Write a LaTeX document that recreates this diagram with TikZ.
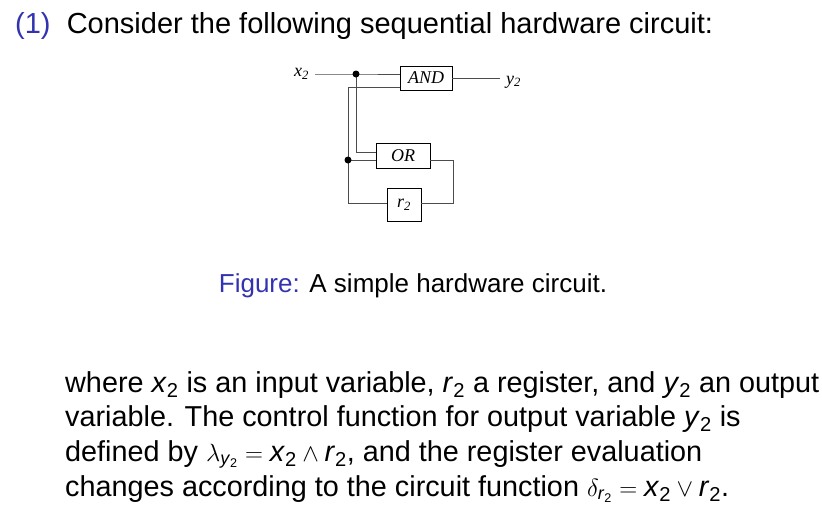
\documentclass[tikz,border=0pt]{standalone}
\usepackage{fontspec}
\setmainfont{Liberation Sans}
\newfontfamily\serf{Liberation Serif}
\definecolor{bblue}{RGB}{51,51,178}
\newcommand{\vv}[1]{\textit{#1}\textsubscript{2}}
\newcommand{\sv}[1]{\mbox{\fontsize{18}{18}\selectfont\textit{#1}\textsubscript{2}}}
\begin{document}
\begin{tikzpicture}[x=1pt,y=-1pt,
  gate/.style={draw,line width=0.7pt,inner sep=0pt,font=\serf\itshape\fontsize{18}{18}\selectfont},
  wire/.style={line width=0.7pt,gray!60!black},
  dot/.style={circle,fill,inner sep=0pt,minimum size=7pt},
  lab/.style={inner sep=0pt,font=\serf\itshape\fontsize{18}{18}\selectfont},
  txt/.style={anchor=base west,inner sep=0pt,font=\fontsize{28.8}{33}\selectfont}]
\useasboundingbox (0,0) rectangle (822,528);
\node[anchor=base west,inner sep=0pt,font=\fontsize{29}{33}\selectfont] (title) at (15,33) {\textcolor{bblue}{(1)}\ \ Consider the following sequential hardware circuit:};
% gates
\node[gate,minimum width=52pt,minimum height=24pt] (and) at (426,78) {AND};
\node[gate,minimum width=54pt,minimum height=25pt] (or) at (403,156) {OR};
\node[gate,minimum width=34pt,minimum height=33pt] (reg) at (404,205) {r\textsubscript{2}};
\node[lab,anchor=east] (x2) at (309,74) {x\textsubscript{2}};
\node[lab,anchor=west] (y2) at (506,82) {y\textsubscript{2}};
\coordinate (d1) at (356,74);
\coordinate (d2) at (348,160);
\draw[wire] (315,74) -- (d1) -- (and.west |- d1);
\draw[wire] (and.east) -- (500,78);
\draw[wire] (d1) |- (or.west |- 0,152);
\draw[wire] (and.west |- 0,87) -| (d2) -- (or.west |- d2);
\draw[wire] (d2) |- (reg.west |- 0,203);
\draw[wire] (reg.east |- 0,203) -- (453,203) |- (or.east |- 0,160);
\node[dot] at (d1) {};
\node[dot] at (d2) {};
\node[anchor=base,inner sep=0pt,font=\fontsize{26}{30}\selectfont] (cap) at (413,292) {\textcolor{bblue}{Figure:} A simple hardware circuit.};
\node[txt] (l1) at (65,392) {where \vv{x} is an input variable, \vv{r} a register, and \vv{y} an output};
\node[txt] (l2) at (65,426) {variable. The control function for output variable \vv{y} is};
\node[txt] (l3) at (65,461) {defined by $\lambda_{\sv{y}} = \mbox{\vv{x}} \wedge \mbox{\vv{r}}$, and the register evaluation};
\node[txt] (l4) at (65,496) {changes according to the circuit function $\delta_{\sv{r}} = \mbox{\vv{x}} \vee \mbox{\vv{r}}$.};
\end{tikzpicture}
\end{document}
